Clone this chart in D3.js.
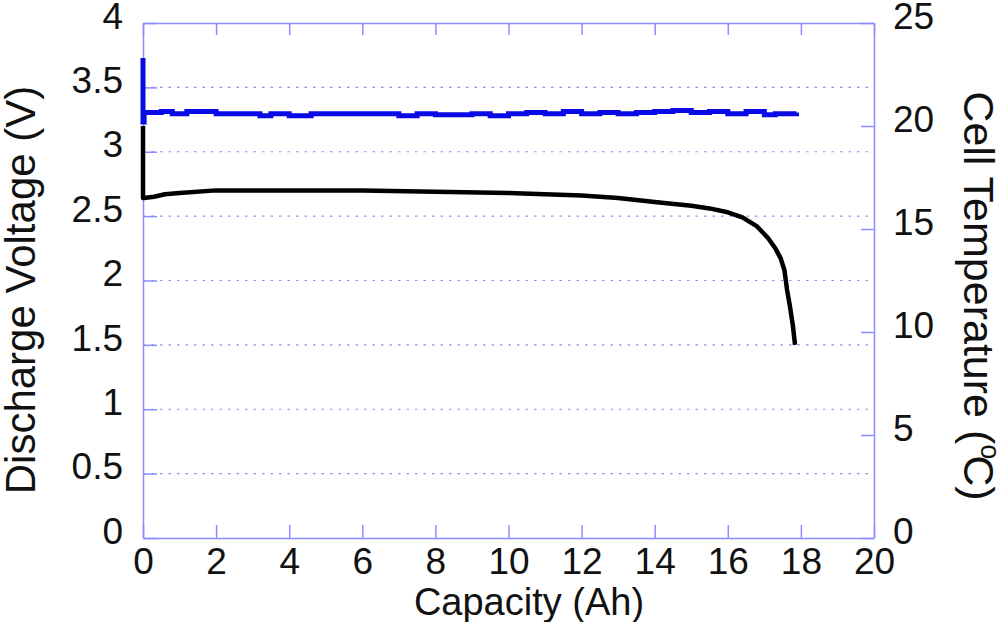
<!DOCTYPE html>
<html>
<head>
<meta charset="utf-8">
<script src="https://cdn.jsdelivr.net/npm/d3@7"></script>
<style>
  body { margin: 0; background: #fff; }
  text { font-family: "Liberation Sans", Arial, sans-serif; fill: #111; }
</style>
</head>
<body>
<script>
// capacity (Ah) vs discharge voltage (V)
const voltCap = [0, 0, 0.02, 0.3, 0.6, 1.0, 2, 4, 6, 8, 10, 11, 12, 13, 14, 15, 15.5, 16, 16.4, 16.8, 17.1, 17.3, 17.45, 17.55, 17.62, 17.7, 17.78, 17.84];
const voltVal = [3.20, 2.64, 2.64, 2.65, 2.67, 2.68, 2.70, 2.70, 2.70, 2.69, 2.68, 2.67, 2.66, 2.64, 2.61, 2.58, 2.56, 2.53, 2.49, 2.42, 2.33, 2.25, 2.17, 2.08, 1.93, 1.80, 1.65, 1.50];

// capacity (Ah) vs cell temperature (C)
const tempCap = [0, 0, 0.01, 0.03, 0.5, 0.8, 1.2, 2, 3, 3.2, 3.5, 4, 4.6, 5, 6, 7, 7.5, 8, 9, 9.5, 10, 10.5, 11, 11.5, 12, 12.5, 13, 13.5, 14, 14.5, 15, 15.5, 16, 16.5, 17, 17.3, 17.88];
const tempVal = [23.3, 20.2, 20.2, 20.65, 20.7, 20.6, 20.7, 20.6, 20.6, 20.5, 20.6, 20.5, 20.6, 20.6, 20.6, 20.5, 20.6, 20.55, 20.6, 20.5, 20.6, 20.65, 20.6, 20.7, 20.6, 20.65, 20.6, 20.65, 20.7, 20.75, 20.65, 20.7, 20.6, 20.7, 20.55, 20.6, 20.65];

const xTicks = [0, 2, 4, 6, 8, 10, 12, 14, 16, 18, 20];
const vTicks = [0, 0.5, 1, 1.5, 2, 2.5, 3, 3.5, 4];
const tTicks = [0, 5, 10, 15, 20, 25];

const W = 1000, H = 622;
const m = {left: 143, right: 126, top: 23, bottom: 84};
const iw = W - m.left - m.right, ih = H - m.top - m.bottom;
const axisColor = '#8c8cff';
const tickFont = 37;

const svg = d3.select('body').append('svg')
  .attr('width', W).attr('height', H);
const g = svg.append('g').attr('transform', `translate(${m.left},${m.top})`);

const x = d3.scaleLinear().domain([0, 20]).range([0, iw]);
const yV = d3.scaleLinear().domain([0, 4]).range([ih, 0]);
const yT = d3.scaleLinear().domain([0, 25]).range([ih, 0]);

// dotted grid
g.append('g').selectAll('line')
  .data(vTicks.filter(d => d > 0 && d < 4))
  .enter().append('line')
  .attr('x1', 0).attr('x2', iw - 6)
  .attr('y1', d => yV(d)).attr('y2', d => yV(d))
  .attr('stroke', '#8f8fee').attr('stroke-width', 1.2)
  .attr('stroke-dasharray', '2.5,6');

// axes
const fmt = d3.format('');
const styleAxis = sel => {
  sel.selectAll('.domain').attr('stroke', axisColor).attr('stroke-width', 1.5);
  sel.selectAll('.tick line').attr('stroke', axisColor).attr('stroke-width', 1.5);
  sel.selectAll('.tick text').attr('font-size', tickFont).attr('fill', '#111');
};

g.append('g').attr('transform', `translate(0,${ih})`)
  .call(d3.axisBottom(x).tickValues(xTicks).tickFormat(fmt).tickSizeInner(-13).tickSizeOuter(0))
  .call(styleAxis)
  .call(s => s.selectAll('.tick text').attr('dy', '0.72em').attr('y', 9));

g.append('g')
  .call(d3.axisTop(x).tickValues(xTicks).tickFormat('').tickSizeInner(-12).tickSizeOuter(0))
  .call(styleAxis);

g.append('g')
  .call(d3.axisLeft(yV).tickValues(vTicks).tickFormat(fmt).tickSizeInner(-14).tickSizeOuter(0).tickPadding(20))
  .call(styleAxis)
  .call(s => s.selectAll('.tick text').attr('dy', '0.14em'));

g.append('g').attr('transform', `translate(${iw},0)`)
  .call(d3.axisRight(yT).tickValues(tTicks).tickFormat(fmt).tickSizeInner(-13).tickSizeOuter(0).tickPadding(19))
  .call(styleAxis)
  .call(s => s.selectAll('.tick text').attr('dy', '0.14em'));

// series
const voltLine = d3.line()
  .x((d, i) => x(voltCap[i]))
  .y(d => yV(d));
g.append('path').datum(voltVal)
  .attr('d', voltLine)
  .attr('fill', 'none').attr('stroke', '#000')
  .attr('stroke-width', 4.5).attr('stroke-linejoin', 'round');

const tempLine = d3.line()
  .x((d, i) => x(tempCap[i]))
  .y(d => yT(d))
  .curve(d3.curveStepAfter);
g.append('path').datum(tempVal)
  .attr('d', tempLine)
  .attr('fill', 'none').attr('stroke', '#0a0ae6')
  .attr('stroke-width', 5);

// axis titles
svg.append('text')
  .attr('x', 529).attr('y', 615)
  .attr('text-anchor', 'middle').attr('font-size', 38)
  .text('Capacity (Ah)');

svg.append('text')
  .attr('transform', `translate(35,290) rotate(-90)`)
  .attr('text-anchor', 'middle').attr('font-size', 42)
  .text('Discharge Voltage (V)');

const rt = svg.append('text')
  .attr('transform', `translate(964,296) rotate(90)`)
  .attr('text-anchor', 'middle').attr('font-size', 43);
rt.append('tspan').text('Cell Temperature (');
rt.append('tspan').attr('font-size', 27).attr('dy', -17).text('o');
rt.append('tspan').attr('dy', 17).attr('dx', -4).text('C)');
</script>
</body>
</html>
